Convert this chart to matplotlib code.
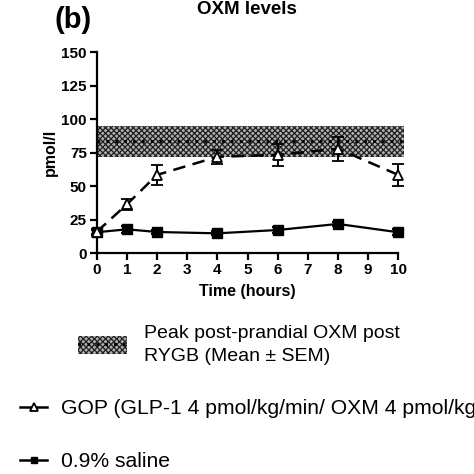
import numpy as np
import matplotlib
matplotlib.use('Agg')
import matplotlib.pyplot as plt
from matplotlib.patches import Patch
from matplotlib.lines import Line2D

plt.rcParams['font.family'] = 'Liberation Sans'
plt.rcParams['hatch.linewidth'] = 0.9

# --- data ---
time_h = [0, 1, 2, 4, 6, 8, 10]
gop_mean = [16, 36.5, 58.5, 72, 73.5, 78, 58.5]
gop_sem = [1.5, 4, 7.5, 5, 8, 9, 8]
saline_mean = [15.7, 17.9, 15.9, 14.9, 17.4, 21.9, 15.7]
saline_sem = [2.2, 2.6, 1.6, 1.5, 2.0, 1.8, 2.4]
rygb_mean = 83.5
rygb_low, rygb_high = 71.6, 95.0
band_x = [0, 10.2]

fig = plt.figure(figsize=(4.74, 4.74), dpi=100)
ax = fig.add_axes([96.7 / 474, 1 - 253.3 / 474, 301.6 / 474, 201 / 474])

# RYGB band (checkered look)
band_face = '#b0b0b0'
band_hatch = 'xxxxxx'
ax.fill_between(band_x, rygb_low, rygb_high, facecolor=band_face, edgecolor='#202020',
                hatch=band_hatch, linewidth=0, zorder=1, clip_on=False)
dot_style = (0, (1.0, 2.2))
ax.plot(band_x, [rygb_mean, rygb_mean], color='black', linestyle=dot_style, lw=2.0,
        zorder=2, clip_on=False)

# saline
ax.errorbar(time_h, saline_mean, yerr=saline_sem, color='black', lw=1.6,
            marker='s', ms=6.5, capsize=4, capthick=1.5, elinewidth=1.5,
            zorder=3, clip_on=False)
# GOP
gop = ax.errorbar(time_h, gop_mean, yerr=gop_sem, color='black', lw=1.8,
                  marker='^', ms=7.5, mfc='white', mew=1.3, capsize=4, capthick=1.4,
                  elinewidth=1.4, zorder=4, clip_on=False)
gop[0].set_dashes([5, 3])

ax.set_xlim(0, 10)
ax.set_ylim(0, 150)
ax.set_xticks(range(0, 11))
ax.set_yticks(range(0, 151, 25))
for s in ['top', 'right']:
    ax.spines[s].set_visible(False)
for s in ['left', 'bottom']:
    ax.spines[s].set_linewidth(1.6)
ax.tick_params(axis='both', width=1.6, length=5, labelsize=11, pad=2)
for lab in ax.get_xticklabels() + ax.get_yticklabels():
    lab.set_fontweight('bold')

ax.set_xlabel('Time (hours)', fontsize=11.5, fontweight='bold')
ax.xaxis.set_label_coords(0.5, -0.155)
ax.set_ylabel('pmol/l', fontsize=11.5, fontweight='bold')
ax.yaxis.set_label_coords(-0.13, 0.5)
fig.text(247 / 474, 1 - 10 / 474, 'OXM levels', fontsize=13.5, fontweight='bold',
         ha='center', va='center')
fig.text(55 / 474, 1 - 20 / 474, '(b)', fontsize=21, fontweight='bold', va='center')

# legends
band_handle = (Patch(facecolor=band_face, edgecolor='#202020', hatch=band_hatch, linewidth=0),
               Line2D([], [], color='black', linestyle=dot_style, lw=2.0))
leg1 = fig.legend([band_handle], ['Peak post-prandial OXM post\nRYGB (Mean \u00b1 SEM)'],
                  loc='center left', bbox_to_anchor=(78 / 474, 1 - 345 / 474),
                  frameon=False, fontsize=14, handlelength=2.5, handleheight=1.0,
                  handletextpad=0.9, borderpad=0, borderaxespad=0)
leg1.get_texts()[0].set_linespacing(1.45)

gop_h = Line2D([], [], color='black', lw=1.8, marker='^', ms=6, mfc='white', mew=1.3)
sal_h = Line2D([], [], color='black', lw=1.8, marker='s', ms=5)
fig.legend([gop_h, sal_h], ['GOP (GLP-1 4 pmol/kg/min/ OXM 4 pmol/kg/min)', '0.9% saline'],
           loc='center left', bbox_to_anchor=(20 / 474, 1 - 435 / 474),
           frameon=False, fontsize=15.2, handlelength=1.3, handletextpad=0.65,
           labelspacing=1.6, borderpad=0, borderaxespad=0)

fig.savefig('out.png', dpi=100)
